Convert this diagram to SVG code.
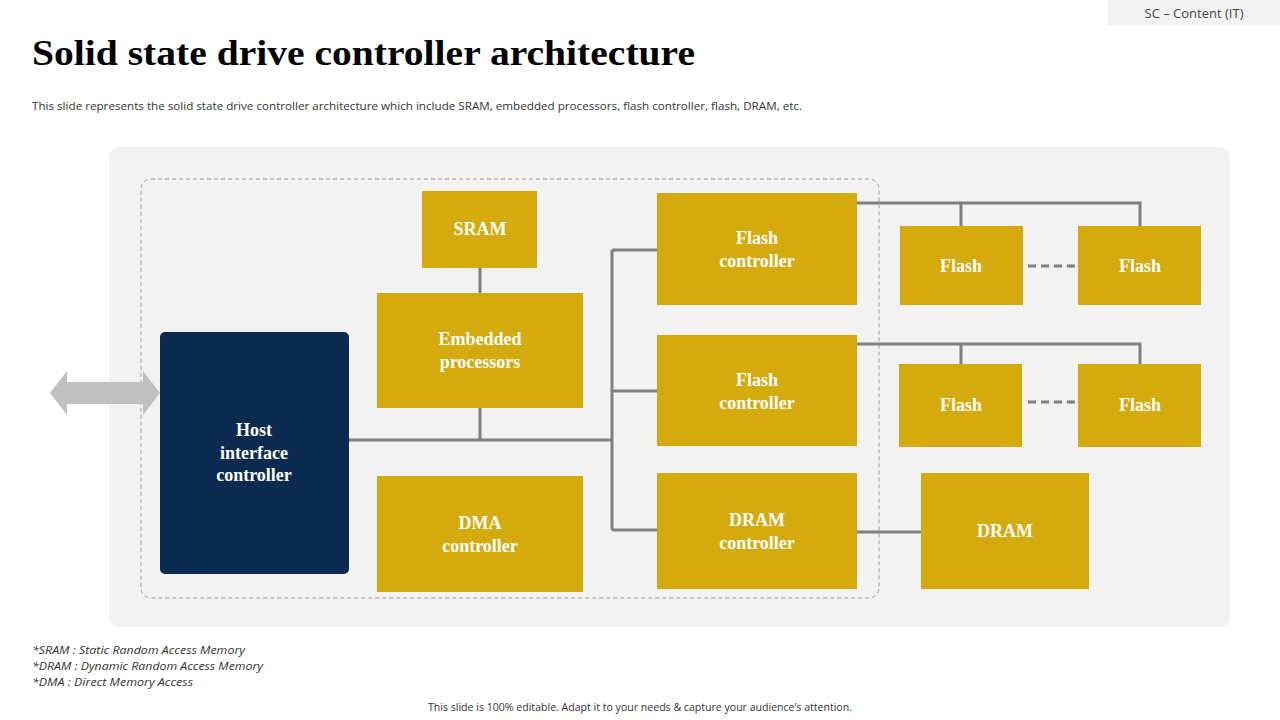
<svg xmlns="http://www.w3.org/2000/svg" width="1280" height="720" viewBox="0 0 1280 720">
<style>
.b{fill:#d5aa0c}
.t{font-family:"Liberation Serif",serif;font-weight:bold;font-size:18px;fill:#fff;text-anchor:middle}
.c{stroke:#7f7f7f;stroke-width:3;fill:none}
.s{font-family:"Open Sans","DejaVu Sans",sans-serif;font-size:10px;fill:#333}
.f{font-family:"Open Sans","DejaVu Sans",sans-serif;font-size:11px;font-style:italic;fill:#333}
</style>
<rect width="1280" height="720" fill="#fff"/>
<rect x="1108" y="0" width="172" height="25" fill="#f2f2f2"/>
<text x="1194" y="18" font-family="Open Sans,sans-serif" font-size="13" fill="#444" text-anchor="middle">SC – Content (IT)</text>
<text x="32" y="65" font-family="Liberation Serif,serif" font-weight="bold" font-size="36" fill="#000" textLength="663" lengthAdjust="spacingAndGlyphs">Solid state drive controller architecture</text>
<text x="32" y="110" class="s" textLength="770" lengthAdjust="spacingAndGlyphs">This slide represents the solid state drive controller architecture which include SRAM, embedded processors, flash controller, flash, DRAM, etc.</text>
<rect x="109" y="147" width="1121" height="480" rx="10" fill="#f2f2f2"/>
<rect x="141" y="179" width="738" height="419" rx="10" fill="none" stroke="#999" stroke-dasharray="4,3"/>
<g id="connectors">
<path class="c" d="M480 268V293M480 408V440M349 440H612M612 250V530M612 250H657M612 391H657M612 530H657M857 203H1140V226M961 203V226M857 344H1140V364M961 344V364M857 532H921"/>
<path class="c" d="M1028 266H1078M1028 402H1078" stroke-dasharray="8,5"/>
<polygon points="50,393 67,371 67,382 143,382 143,371 160,393 143,415 143,404 67,404 67,415" fill="#c0c0c0"/>
</g>
<g id="host"><rect x="160" y="332" width="189" height="242" rx="5" fill="#0b2a50"/><text class="t" x="254" y="436">Host</text><text class="t" x="254" y="459">interface</text><text class="t" x="254" y="481">controller</text></g>
<g id="sram"><rect class="b" x="422" y="191" width="115" height="77"/><text class="t" x="480" y="235">SRAM</text></g>
<g id="emb"><rect class="b" x="377" y="293" width="206" height="115"/><text class="t" x="480" y="345">Embedded</text><text class="t" x="480" y="368">processors</text></g>
<g id="dma"><rect class="b" x="377" y="476" width="206" height="116"/><text class="t" x="480" y="529">DMA</text><text class="t" x="480" y="552">controller</text></g>
<g id="fc1"><rect class="b" x="657" y="193" width="200" height="112"/><text class="t" x="757" y="244">Flash</text><text class="t" x="757" y="267">controller</text></g>
<g id="fc2"><rect class="b" x="657" y="335" width="200" height="111"/><text class="t" x="757" y="386">Flash</text><text class="t" x="757" y="409">controller</text></g>
<g id="dc"><rect class="b" x="657" y="473" width="200" height="116"/><text class="t" x="757" y="526">DRAM</text><text class="t" x="757" y="549">controller</text></g>
<g id="f1"><rect class="b" x="900" y="226" width="123" height="79"/><text class="t" x="961" y="272">Flash</text></g>
<g id="f2"><rect class="b" x="1078" y="226" width="123" height="79"/><text class="t" x="1140" y="272">Flash</text></g>
<g id="f3"><rect class="b" x="899" y="364" width="123" height="83"/><text class="t" x="961" y="411">Flash</text></g>
<g id="f4"><rect class="b" x="1078" y="364" width="123" height="83"/><text class="t" x="1140" y="411">Flash</text></g>
<g id="dram"><rect class="b" x="921" y="473" width="168" height="116"/><text class="t" x="1005" y="537">DRAM</text></g>
<text class="f" x="32" y="654" textLength="213" lengthAdjust="spacingAndGlyphs">*SRAM : Static Random Access Memory</text>
<text class="f" x="32" y="670" textLength="231" lengthAdjust="spacingAndGlyphs">*DRAM : Dynamic Random Access Memory</text>
<text class="f" x="32" y="686" textLength="161" lengthAdjust="spacingAndGlyphs">*DMA : Direct Memory Access</text>
<text class="s" x="428" y="711" fill="#555" textLength="424" lengthAdjust="spacingAndGlyphs">This slide is 100% editable. Adapt it to your needs &amp; capture your audience’s attention.</text>
</svg>
